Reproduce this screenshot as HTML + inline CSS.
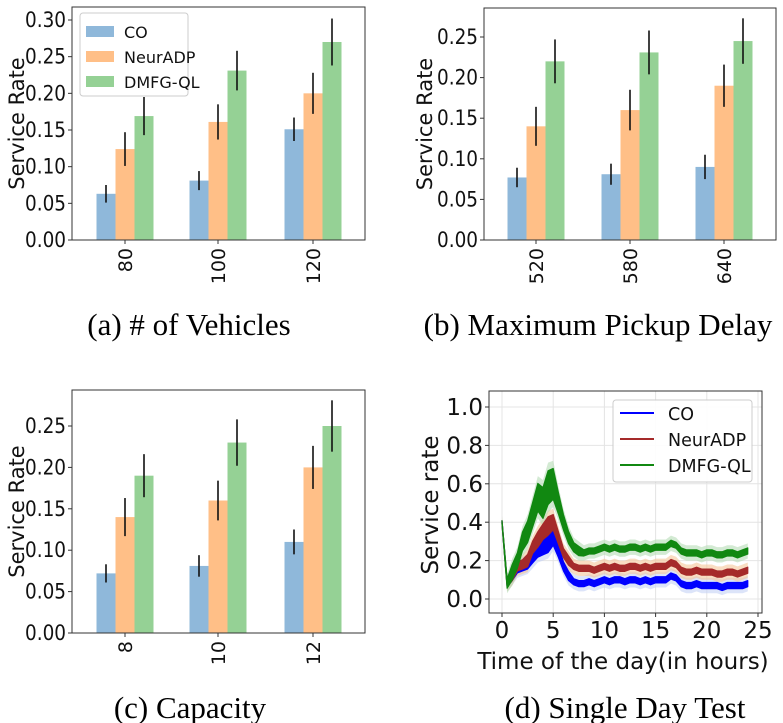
<!DOCTYPE html>
<html><head><meta charset="utf-8"><style>
html,body{margin:0;padding:0;background:#fff;}
svg{display:block;}
text{font-family:"DejaVu Sans","Liberation Sans",sans-serif;fill:#111;}
.cap{font-family:"Liberation Serif",serif;font-size:31px;fill:#000;}
</style></head><body>
<svg id="fig" width="783" height="723" viewBox="0 0 783 723" xmlns="http://www.w3.org/2000/svg"></svg>
<script>
// ---- Bar chart data ----
const seriesNames = ["CO", "NeurADP", "DMFG-QL"];
const seriesColors = ["#8fb8da", "#ffbf87", "#95d195"];
const catsA = ["80", "100", "120"];
const coA = [0.063, 0.081, 0.151];
const coErrA = [0.012, 0.013, 0.016];
const neurA = [0.124, 0.161, 0.200];
const neurErrA = [0.023, 0.024, 0.028];
const dmfgA = [0.169, 0.231, 0.270];
const dmfgErrA = [0.026, 0.027, 0.032];
const ticksA = [0, 0.05, 0.10, 0.15, 0.20, 0.25, 0.30];

const catsB = ["520", "580", "640"];
const coB = [0.077, 0.081, 0.090];
const coErrB = [0.012, 0.013, 0.015];
const neurB = [0.140, 0.160, 0.190];
const neurErrB = [0.024, 0.025, 0.026];
const dmfgB = [0.220, 0.231, 0.245];
const dmfgErrB = [0.027, 0.027, 0.028];
const ticksB = [0, 0.05, 0.10, 0.15, 0.20, 0.25];

const catsC = ["8", "10", "12"];
const coC = [0.072, 0.081, 0.110];
const coErrC = [0.011, 0.013, 0.015];
const neurC = [0.140, 0.160, 0.200];
const neurErrC = [0.023, 0.024, 0.026];
const dmfgC = [0.190, 0.230, 0.250];
const dmfgErrC = [0.026, 0.028, 0.031];
const ticksC = [0, 0.05, 0.10, 0.15, 0.20, 0.25];

// ---- Line chart data (0 .. 24 h, every 0.5 h) ----
const hours = [0,0.5,1,1.5,2,2.5,3,3.5,4,4.5,5,5.5,6,6.5,7,7.5,8,8.5,9,9.5,10,10.5,11,11.5,12,12.5,13,13.5,14,14.5,15,15.5,16,16.5,17,17.5,18,18.5,19,19.5,20,20.5,21,21.5,22,22.5,23,23.5,24];
const coLine = [0.40,0.08,0.12,0.16,0.17,0.18,0.22,0.25,0.27,0.29,0.32,0.25,0.17,0.12,0.09,0.08,0.08,0.09,0.08,0.09,0.10,0.09,0.10,0.10,0.09,0.10,0.10,0.09,0.10,0.09,0.10,0.10,0.10,0.12,0.11,0.08,0.07,0.07,0.08,0.07,0.07,0.07,0.07,0.06,0.07,0.07,0.07,0.07,0.08];
const neurLine = [0.40,0.08,0.12,0.17,0.18,0.20,0.27,0.31,0.35,0.38,0.40,0.32,0.24,0.20,0.17,0.16,0.16,0.16,0.15,0.16,0.17,0.16,0.17,0.16,0.16,0.17,0.17,0.16,0.17,0.16,0.17,0.17,0.17,0.19,0.18,0.15,0.14,0.14,0.15,0.14,0.14,0.14,0.13,0.13,0.14,0.14,0.13,0.14,0.15];
const dmfgLine = [0.40,0.08,0.14,0.20,0.30,0.35,0.44,0.53,0.50,0.58,0.60,0.50,0.40,0.32,0.27,0.25,0.24,0.25,0.25,0.26,0.27,0.26,0.27,0.26,0.26,0.27,0.27,0.26,0.27,0.26,0.27,0.27,0.27,0.29,0.28,0.25,0.24,0.24,0.24,0.23,0.24,0.24,0.23,0.23,0.24,0.24,0.23,0.24,0.25];
const coSpread = [0.01,0.02,0.03,0.03,0.03,0.03,0.04,0.04,0.05,0.06,0.05,0.04,0.03,0.03,0.02,0.02,0.02,0.02,0.02,0.02,0.02,0.02,0.02,0.02,0.02,0.02,0.02,0.02,0.02,0.02,0.02,0.02,0.02,0.02,0.02,0.02,0.02,0.02,0.02,0.02,0.02,0.02,0.02,0.02,0.02,0.02,0.02,0.02,0.02];
const neurSpread = [0.01,0.02,0.03,0.03,0.03,0.04,0.04,0.05,0.05,0.06,0.05,0.04,0.03,0.03,0.02,0.02,0.02,0.02,0.02,0.02,0.02,0.02,0.02,0.02,0.02,0.02,0.02,0.02,0.02,0.02,0.02,0.02,0.02,0.02,0.02,0.02,0.02,0.02,0.02,0.02,0.02,0.02,0.02,0.02,0.02,0.02,0.02,0.02,0.02];
const dmfgSpread = [0.01,0.03,0.05,0.05,0.06,0.07,0.08,0.09,0.10,0.11,0.10,0.07,0.05,0.04,0.03,0.03,0.02,0.02,0.02,0.02,0.02,0.02,0.02,0.02,0.02,0.02,0.02,0.02,0.02,0.02,0.02,0.02,0.02,0.02,0.02,0.02,0.02,0.02,0.02,0.02,0.02,0.02,0.02,0.02,0.02,0.02,0.02,0.02,0.02];
const lineColors = ["#0000ff", "#a52a2a", "#118811"];
const bandColors = ["#c4d2f5", "#f5c79a", "#b5dcb5"];
const xTicksD = [0, 5, 10, 15, 20, 25];
const yTicksD = [0, 0.2, 0.4, 0.6, 0.8, 1.0];

const NS = "http://www.w3.org/2000/svg";
const fig = document.getElementById("fig");
function mk(tag, attrs, parent) {
  const e = document.createElementNS(NS, tag);
  for (const k in attrs) e.setAttribute(k, attrs[k]);
  (parent || fig).appendChild(e);
  return e;
}

function barPanel(cfg) {
  const g = mk("g", {});
  
  
  const y = v => cfg.y0 - (v / cfg.ref) * (cfg.y0 - cfg.yRef);
  const bw = 19;
  const vals = [cfg.co, cfg.neur, cfg.dmfg];
  const errs = [cfg.coErr, cfg.neurErr, cfg.dmfgErr];
  for (let s = 0; s < 3; s++) {
    for (let i = 0; i < cfg.cats.length; i++) {
      const cx = cfg.gx[i] + (s - 1) * bw;
      const r = mk("rect", {x: cx - bw / 2, y: y(vals[s][i]), width: bw, height: cfg.y0 - y(vals[s][i]), fill: seriesColors[s]}, g);
      
      
      const el = mk("line", {x1: cx, x2: cx, y1: y(vals[s][i] - errs[s][i]), y2: y(vals[s][i] + errs[s][i]), stroke: "#111", "stroke-width": 1.6}, g);
      
      
    }
  }
  const fr = mk("rect", {x: cfg.left, y: cfg.top, width: cfg.right - cfg.left, height: cfg.y0 - cfg.top, fill: "none", stroke: "#333", "stroke-width": 1}, g);
  
  
  cfg.ticks.forEach(t => {
    mk("line", {x1: cfg.left - 4, x2: cfg.left, y1: y(t), y2: y(t), stroke: "#333"}, g);
    const tx = mk("text", {x: cfg.left - 6, y: y(t) + 7, "text-anchor": "end", textLength: 41, lengthAdjust: "spacingAndGlyphs", style: "font-size:21px"}, g);
    tx.textContent = t.toFixed(2);
    
    
  });
  cfg.cats.forEach((c, i) => {
    mk("line", {x1: cfg.gx[i], x2: cfg.gx[i], y1: cfg.y0, y2: cfg.y0 + 4, stroke: "#333"}, g);
    const tx = mk("text", {x: 0, y: 0, "text-anchor": "end", style: "font-size:19px", transform: `translate(${cfg.gx[i] + 7},${cfg.y0 + 8}) rotate(-90)`}, g);
    tx.textContent = c;
    
    
  });
  const yl = mk("text", {x: 0, y: 0, "text-anchor": "middle", style: "font-size:21px", transform: `translate(${cfg.ylx},${(cfg.top + cfg.y0) / 2}) rotate(-90)`}, g);
  yl.textContent = "Service Rate";
  
  
  const cp = mk("text", {x: cfg.capx, y: cfg.capy, "text-anchor": "middle", class: "cap"}, g);
  cp.textContent = cfg.caption;
  
  
  return g;
}

const gA = barPanel({name: "panel-a-vehicles", cats: catsA, co: coA, coErr: coErrA, neur: neurA, neurErr: neurErrA, dmfg: dmfgA, dmfgErr: dmfgErrA, ticks: ticksA,
  y0: 240, ref: 0.30, yRef: 20, top: 7, left: 72, right: 365, gx: [125, 218, 313], ylx: 24, caption: "(a) # of Vehicles", capx: 189, capy: 335});
const lgA = mk("g", {}, gA);


mk("rect", {x: 80, y: 13, width: 108, height: 83, rx: 3, fill: "#fff", "fill-opacity": 0.85, stroke: "#ccc"}, lgA);
seriesNames.forEach((n, s) => {
  const yy = 32 + s * 25;
  mk("rect", {x: 86, y: yy - 6, width: 28, height: 11, fill: seriesColors[s]}, lgA);
  const t = mk("text", {x: 124, y: yy + 6, style: "font-size:16px"}, lgA);
  t.textContent = n;
  
  
});

barPanel({name: "panel-b-pickup-delay", cats: catsB, co: coB, coErr: coErrB, neur: neurB, neurErr: neurErrB, dmfg: dmfgB, dmfgErr: dmfgErrB, ticks: ticksB,
  y0: 240, ref: 0.25, yRef: 37, top: 8, left: 484, right: 776, gx: [536, 630, 724], ylx: 432, caption: "(b) Maximum Pickup Delay", capx: 598, capy: 335});

barPanel({name: "panel-c-capacity", cats: catsC, co: coC, coErr: coErrC, neur: neurC, neurErr: neurErrC, dmfg: dmfgC, dmfgErr: dmfgErrC, ticks: ticksC,
  y0: 633, ref: 0.25, yRef: 426, top: 390, left: 72, right: 365, gx: [125, 218, 313], ylx: 24, caption: "(c) Capacity", capx: 190, capy: 718});

// ---- Panel d ----
(function () {
  const g = mk("g", {});
  
  
  const L = 489, R = 762, T = 391, B = 613;
  const x = h => 502 + h / 25 * (758 - 502);
  const y = v => 599 - v * (599 - 407);
  xTicksD.forEach(t => {
    mk("line", {x1: x(t), x2: x(t), y1: T, y2: B, stroke: "#e4e4e4"}, g);
    mk("line", {x1: x(t), x2: x(t), y1: B, y2: B + 4, stroke: "#333"}, g);
    const tx = mk("text", {x: x(t), y: B + 25, "text-anchor": "middle", style: "font-size:23px"}, g);
    tx.textContent = t;
    
    
  });
  yTicksD.forEach(t => {
    mk("line", {x1: L, x2: R, y1: y(t), y2: y(t), stroke: "#e4e4e4"}, g);
    mk("line", {x1: L - 4, x2: L, y1: y(t), y2: y(t), stroke: "#333"}, g);
    const tx = mk("text", {x: L - 6, y: y(t) + 8, "text-anchor": "end", style: "font-size:23px"}, g);
    tx.textContent = t.toFixed(1);
    
    
  });
  const means = [coLine, neurLine, dmfgLine];
  const spreads = [coSpread, neurSpread, dmfgSpread];
  for (let s = 0; s < 3; s++) {
    let up = "", lo = "";
    hours.forEach((h, i) => { up += (i ? "L" : "M") + x(h) + "," + y(means[s][i] + spreads[s][i] + 0.02); });
    for (let i = hours.length - 1; i >= 0; i--) lo += "L" + x(hours[i]) + "," + y(means[s][i] - spreads[s][i] - 0.02);
    const band = mk("path", {d: up + lo + "Z", fill: bandColors[s], opacity: 0.6}, g);
    
    
  }
  for (let s = 0; s < 3; s++) {
    let up = "", lo = "";
    hours.forEach((h, i) => { up += (i ? "L" : "M") + x(h) + "," + y(means[s][i] + spreads[s][i] * 0.8); });
    for (let i = hours.length - 1; i >= 0; i--) lo += "L" + x(hours[i]) + "," + y(means[s][i] - spreads[s][i] * 0.8);
    const p = mk("path", {d: up + lo + "Z", fill: lineColors[s], stroke: lineColors[s], "stroke-width": 1.2, "stroke-linejoin": "round"}, g);
    
    
  }
  const fr = mk("rect", {x: L, y: T, width: R - L, height: B - T, fill: "none", stroke: "#333"}, g);
  
  
  const lg = mk("g", {}, g);
  
  
  mk("rect", {x: 613, y: 400, width: 139, height: 82, rx: 3, fill: "#fff", "fill-opacity": 0.9, stroke: "#ccc"}, lg);
  seriesNames.forEach((n, s) => {
    const yy = 413 + s * 26;
    mk("line", {x1: 620, x2: 654, y1: yy, y2: yy, stroke: lineColors[s], "stroke-width": 2}, lg);
    const t = mk("text", {x: 668, y: yy + 7, style: "font-size:17.5px"}, lg);
    t.textContent = n;
    
    
  });
  const xl = mk("text", {x: 623, y: 669, "text-anchor": "middle", style: "font-size:23px"}, g);
  xl.textContent = "Time of the day(in hours)";
  
  
  const yl = mk("text", {x: 0, y: 0, "text-anchor": "middle", style: "font-size:23px", transform: `translate(438,505) rotate(-90)`}, g);
  yl.textContent = "Service rate";
  
  
  const cp = mk("text", {x: 625, y: 718, "text-anchor": "middle", class: "cap"}, g);
  cp.textContent = "(d) Single Day Test";
  
  
})();
</script>
</body></html>
